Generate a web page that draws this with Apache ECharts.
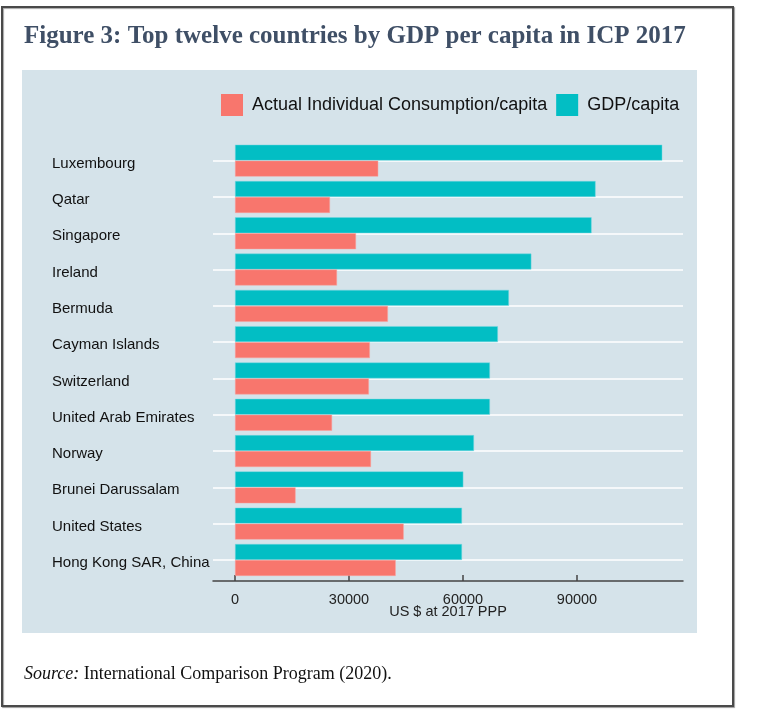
<!DOCTYPE html>
<html>
<head>
<meta charset="utf-8">
<script src="https://cdn.jsdelivr.net/npm/echarts@6/dist/echarts.min.js"></script>
<style>
html,body{margin:0;padding:0;background:#fff;}
#chart{width:768px;height:711px;}
</style>
</head>
<body>
<div id="chart"></div>
<script>
const categories = ['Luxembourg','Qatar','Singapore','Ireland','Bermuda','Cayman Islands','Switzerland','United Arab Emirates','Norway','Brunei Darussalam','United States','Hong Kong SAR, China'];
const gdpPerCapita = [112450, 94900, 93850, 78000, 72100, 69200, 67100, 67100, 62900, 60100, 59750, 59750];
const aicPerCapita = [37700, 25000, 31850, 26850, 40250, 35500, 35250, 25550, 35800, 15950, 44400, 42300];
const tickValues = [0, 30000, 60000, 90000];

const chart = echarts.init(document.getElementById('chart'), null, {renderer: 'canvas'});
const sans = 'Liberation Sans, Arial, sans-serif';
const serif = 'Liberation Serif, Times New Roman, serif';

const option = {
  backgroundColor: '#ffffff',
  animation: false,
  graphic: [
    {type: 'rect', z: -10, shape: {x: 2, y: 7, width: 731, height: 699}, style: {fill: '#ffffff', stroke: '#4a4a4a', lineWidth: 2, shadowColor: 'rgba(0,0,0,0.35)', shadowOffsetX: 1, shadowOffsetY: 1, shadowBlur: 1}},
    {type: 'rect', z: -9, shape: {x: 22, y: 70, width: 675, height: 563}, style: {fill: '#d5e3ea'}},
    {type: 'text', z: 5, left: 24, top: 665, style: {text: '{i|Source:} International Comparison Program (2020).', rich: {i: {fontStyle: 'italic', fontFamily: serif, fontSize: 18, fill: '#111'}}, fontFamily: serif, fontSize: 18, fill: '#111'}}
  ],
  title: {
    text: 'Figure 3: Top twelve countries by GDP per capita in ICP 2017',
    left: 19, top: 19,
    textStyle: {fontFamily: serif, fontWeight: 'bold', fontSize: 25, color: '#3f4f66'}
  },
  legend: {
    data: ['Actual Individual Consumption/capita', 'GDP/capita'],
    left: 216, top: 89,
    itemWidth: 22, itemHeight: 22, itemGap: 9,
    icon: 'rect',
    itemStyle: {borderWidth: 0},
    textStyle: {fontFamily: sans, fontSize: 18, color: '#111', padding: [0, 0, 0, 4]}
  },
  grid: [
    {left: 213, right: 85, top: 142.5, height: 435.6, containLabel: false},
    {left: 213, right: 85, top: 160.7, height: 399.3, containLabel: false}
  ],
  xAxis: [
    {
      type: 'value', gridIndex: 0, min: -5789, max: 117895, offset: 3,
      name: 'US $ at 2017 PPP', nameLocation: 'middle', nameGap: 23, nameMoveOverlap: false,
      nameTextStyle: {fontFamily: sans, fontSize: 14.5, color: '#222'},
      axisLine: {show: true, lineStyle: {color: '#444', width: 1.5}},
      axisTick: {show: true, inside: true, length: 6, customValues: tickValues, lineStyle: {color: '#444', width: 1.5}},
      axisLabel: {customValues: tickValues, formatter: v => String(v), fontFamily: sans, fontSize: 14.5, color: '#222', margin: 11},
      splitLine: {show: false}
    },
    {type: 'value', gridIndex: 1, show: false, min: 0, max: 1}
  ],
  yAxis: [
    {
      type: 'category', gridIndex: 0, data: categories, inverse: true,
      axisLine: {show: false}, axisTick: {show: false},
      axisLabel: {
        align: 'left', margin: 161,
        formatter: v => '{a|' + v + '}',
        rich: {a: {fontFamily: sans, fontSize: 15, color: '#111', padding: [6, 0, 0, 0]}}
      },
      splitLine: {show: false}
    },
    {
      type: 'value', gridIndex: 1, min: 0, max: 11, interval: 1,
      axisLine: {show: false}, axisTick: {show: false}, axisLabel: {show: false},
      splitLine: {show: true, lineStyle: {color: '#ffffff', width: 1.7}}
    }
  ],
  series: [
    {
      name: 'GDP/capita', type: 'bar', xAxisIndex: 0, yAxisIndex: 0,
      data: gdpPerCapita, barWidth: 16, barGap: '0%',
      itemStyle: {color: '#02bec4', borderColor: 'rgba(120,215,225,0.8)', borderWidth: 0.6}
    },
    {
      name: 'Actual Individual Consumption/capita', type: 'bar', xAxisIndex: 0, yAxisIndex: 0,
      data: aicPerCapita, barWidth: 16, barGap: '0%',
      itemStyle: {color: '#f8766d', borderColor: 'rgba(250,160,155,0.8)', borderWidth: 0.6}
    }
  ]
};
chart.setOption(option);
</script>
</body>
</html>
